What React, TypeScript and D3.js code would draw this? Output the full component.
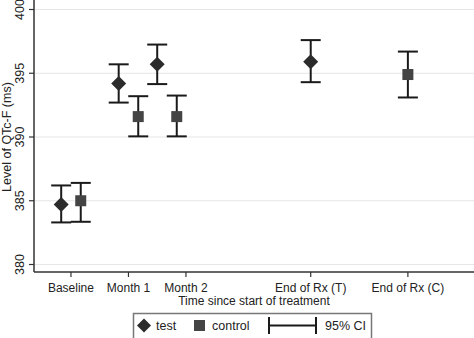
import React from "react";
import * as d3 from "d3";

// Data
const tickLabels = ["Baseline", "Month 1", "Month 2", "End of Rx (T)", "End of Rx (C)"];
const tickPos = [0, 1, 2, 4.17, 5.86];

const testX = [-0.17, 0.83, 1.5, 4.17];
const testMean = [384.7, 394.2, 395.7, 395.9];
const testLo = [383.3, 392.7, 394.15, 394.3];
const testHi = [386.2, 395.7, 397.25, 397.6];

const ctrlX = [0.17, 1.17, 1.84, 5.86];
const ctrlMean = [385.0, 391.6, 391.6, 394.9];
const ctrlLo = [383.35, 390.05, 390.05, 393.1];
const ctrlHi = [386.4, 393.2, 393.25, 396.7];

const yTicks = [380, 385, 390, 395, 400];

const W = 474;
const H = 338;
const left = 34;
const axisY = 272;

export default function App() {
  const x = d3.scaleLinear().domain([-0.643, 7.01]).range([left, W]);
  const y = d3.scaleLinear().domain([380, 400]).range([264.5, 9.5]);
  const font = "Liberation Sans, Arial, sans-serif";
  const stroke = "#1a1a1a";
  const fs = 12;

  const errBar = (cx: number, lo: number, hi: number, key: string) => (
    <g key={key} stroke={stroke} strokeWidth={2} fill="none">
      <line x1={cx} x2={cx} y1={y(lo)} y2={y(hi)} />
      <line x1={cx - 10} x2={cx + 10} y1={y(lo)} y2={y(lo)} />
      <line x1={cx - 10} x2={cx + 10} y1={y(hi)} y2={y(hi)} />
    </g>
  );
  const diamond = (cx: number, cy: number, s: number) =>
    `M${cx},${cy - s} L${cx + s},${cy} L${cx},${cy + s} L${cx - s},${cy} Z`;

  return (
    <svg width={W} height={H} style={{ position: "absolute", left: 0, top: 0, background: "#fff" }}>
      <rect x={0} y={0} width={W} height={H} fill="#fff" />
      {yTicks.map((t) => (
        <line key={"g" + t} x1={left} x2={W} y1={y(t)} y2={y(t)} stroke="#e6e6e6" strokeWidth={1.2} />
      ))}
      <line x1={left} x2={left} y1={0} y2={axisY} stroke="#333" strokeWidth={1.5} />
      {yTicks.map((t) => (
        <g key={"yt" + t}>
          <line x1={left - 5} x2={left} y1={y(t)} y2={y(t)} stroke="#333" strokeWidth={1.2} />
          <text
            transform={`translate(${left - 10},${y(t)}) rotate(-90)`}
            textAnchor="middle"
            fontFamily={font}
            fontSize={12.5}
            fill="#222"
          >
            {t}
          </text>
        </g>
      ))}
      <text
        transform={`translate(11,137) rotate(-90)`}
        textAnchor="middle"
        fontFamily={font}
        fontSize={12.5}
        fill="#222"
      >
        Level of QTc-F (ms)
      </text>
      <line x1={left} x2={W} y1={axisY} y2={axisY} stroke="#333" strokeWidth={1.5} />
      {tickPos.map((p, i) => (
        <g key={"xt" + i}>
          <line x1={x(p)} x2={x(p)} y1={axisY} y2={axisY + 5} stroke="#333" strokeWidth={1.2} />
          <text x={x(p)} y={axisY + 19.5} textAnchor="middle" fontFamily={font} fontSize={fs} fill="#222">
            {tickLabels[i]}
          </text>
        </g>
      ))}
      <text x={254} y={304.5} textAnchor="middle" fontFamily={font} fontSize={fs} fill="#222">
        Time since start of treatment
      </text>
      {testX.map((p, i) => errBar(x(p), testLo[i], testHi[i], "te" + i))}
      {ctrlX.map((p, i) => errBar(x(p), ctrlLo[i], ctrlHi[i], "ce" + i))}
      {testX.map((p, i) => (
        <path key={"tm" + i} d={diamond(x(p), y(testMean[i]), 7.5)} fill="#2b2b2b" />
      ))}
      {ctrlX.map((p, i) => (
        <rect key={"cm" + i} x={x(p) - 5.5} y={y(ctrlMean[i]) - 5.5} width={11} height={11} fill="#444" />
      ))}
      <rect x={133.5} y={313.5} width={238} height={30} fill="#fff" stroke="#777" strokeWidth={1.5} />
      <path d={diamond(144, 325.5, 7)} fill="#2b2b2b" />
      <text x={156} y={330} fontFamily={font} fontSize={12.5} fill="#222">test</text>
      <rect x={194} y={320} width={11} height={11} fill="#444" />
      <text x={212} y={330} fontFamily={font} fontSize={12.5} fill="#222">control</text>
      <g stroke={stroke} strokeWidth={2}>
        <line x1={269} x2={316} y1={325.5} y2={325.5} />
        <line x1={269} x2={269} y1={317} y2={334} />
        <line x1={316} x2={316} y1={317} y2={334} />
      </g>
      <text x={325} y={330} fontFamily={font} fontSize={12.5} fill="#222">95% CI</text>
    </svg>
  );
}
